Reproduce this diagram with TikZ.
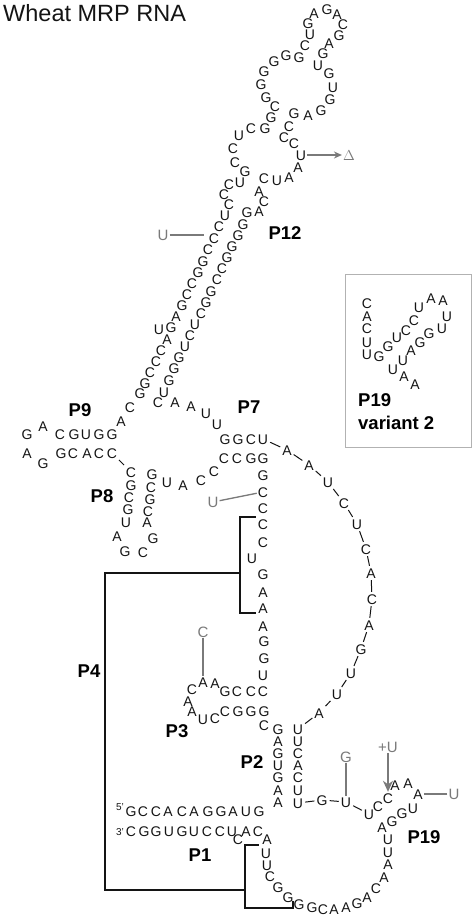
\documentclass[tikz,border=0pt]{standalone}
\usepackage{fontspec}
\usetikzlibrary{arrows.meta}
\setmainfont{Liberation Sans}
\definecolor{ink}{gray}{0.08}
\definecolor{mut}{gray}{0.48}
\tikzset{
    nt/.style={inner sep=1pt,text=ink,font=\fontsize{14}{14}\selectfont,text height=10pt,text depth=0pt},
    mutnt/.style={nt,text=mut,font=\fontsize{15}{15}\selectfont},
    lab/.style={inner sep=0pt,text=black,font=\fontsize{18.5}{18.5}\selectfont\bfseries},
    prime/.style={inner sep=0pt,text=ink,font=\fontsize{10}{10}\selectfont},
    link/.style={draw=ink,line width=1pt,shorten >=1pt,shorten <=1pt},
    mutlink/.style={draw=mut,line width=1.3pt},
    bracket/.style={draw=ink,line width=1.5pt,line cap=rect}
}
\begin{document}
\begin{tikzpicture}[x=1pt,y=-1pt,>={Stealth[length=8pt,width=7pt]}]
\useasboundingbox (0,0) rectangle (474,916);
\fill[white] (0,0) rectangle (474,916);

\node[inner sep=0pt,anchor=west,text=ink,font=\fontsize{23.5}{23.5}\selectfont] (title) at (3,13) {Wheat MRP RNA};

% P12 and the long helix
\foreach \px/\py/\t [count=\i] in {
    314/13/A,327/9/G,337/14/A,343/24/C,339/35/G,329/43/A,323/53/G,318/65/U,329/73/G,333/87/U,
    330/99/G,321/110/G,308/115/A,294/113/G,289/126/C,284/137/C,294/143/C,301/155/U,298/167/A,
    289/177/A,277/180/U,264/178/C,259/191/A,264/201/C,259/211/A,247/212/G,243/224/G,238/235/G,
    232/246/G,227/257/G,222/268/C,217/279/C,211/291/G,206/302/G,201/313/C,195/324/U,190/335/C,
    185/346/U,179/357/G,174/368/G,169/380/G,164/392/U,158/402/C,175/402/A,191/406/A,206/413/U,
    217/424/U}
    \node[nt] (r\i) at (\px,\py) {\t};
\foreach \px/\py/\t [count=\i] in {
    308/23/G,310/34/U,305/45/C,299/57/G,286/55/G,274/61/G,264/71/G,261/84/G,266/97/G,275/106/C,
    271/117/G,265/128/G,251/128/C,239/135/U,233/148/C,235/162/C,245/171/G,240/182/U,229/184/C,
    224/194/C,229/204/C,225/215/U,219/226/C,214/238/C,208/249/C,203/261/G,198/272/G,192/283/C,
    187/294/C,182/305/G,176/316/A,171/327/G,159/329/U,167/339/A,161/350/C,156/361/C,150/372/C,
    145/383/G,140/393/G,130/407/C,121/421/A}
    \node[nt] (l\i) at (\px,\py) {\t};

% P9 and P8
\foreach \px/\py/\t [count=\i] in {
    112/434/G,99/434/G,86/434/U,74/434/G,60/434/C,43/426/A,27/434/G,27/453/A,43/463/G,61/453/G,
    73/453/C,87/453/A,99/453/C}
    \node[nt] (n\i) at (\px,\py) {\t};
\node[nt] (n14) at (112,453) {C};
\node[nt] (e1) at (131,472) {C};
\draw[link] (n14) -- (e1);
\foreach \px/\py/\t [count=\i] in {
    131/485/G,129/497/C,128/509/G,126/522/U,117/536/A,125/551/G,143/552/C,153/538/G,147/522/A,
    148/511/C,150/499/G,151/487/C,152/474/G,167/482/U,183/485/A,201/480/C,214/471/C,224/458/C,
    237/458/C,251/458/G,263/458/G,225/439/G,238/439/G,251/439/C}
    \node[nt] (e\i0) at (\px,\py) {\t};

% strand down to P3
\foreach \px/\py/\t [count=\i] in {
    263/475/G,263/492/C,263/508/C,263/524/C,263/542/C,252/558/U,263/574/G,263/592/A,263/608/A,
    263/626/A,264/641/G,264/658/G,263/675/U,263/691/C,251/691/C,237/691/C,225/691/G,215/683/A,
    203/682/A,192/689/C,188/701/A,192/711/A,203/719/U,215/718/C,225/711/C,238/711/G,251/711/G,
    264/711/G,264/725/C}
    \node[nt] (d\i) at (\px,\py) {\t};

% P2
\foreach \py/\t [count=\i] in {729/G,741/A,753/G,765/U,777/G,790/A,802/A}
    \node[nt] (p\i) at (278,\py) {\t};
\foreach \py/\t [count=\i] in {741/U,753/C,765/A,777/C,790/U}
    \node[nt] (q\i) at (298,\py) {\t};

% long arc
\foreach \px/\py/\t [count=\i] in {
    263/439/U,287/450/A,309/465/A,328/482/U,344/503/C,357/524/U,366/549/C,371/573/A,372/599/C,
    369/625/A,361/649/G,351/673/U,337/694/U,319/713/A,298/729/U}
    \node[nt] (a\i) at (\px,\py) {\t};
\foreach \i [remember=\i as \j (initially 1)] in {2,...,15}
    \draw[link] (a\j) -- (a\i);

% P1
\node[prime] (five) at (120,807) {5'};
\node[prime] (three) at (120,832) {3'};
\foreach \px/\t [count=\i] in {131/G,143/C,156/C,168/A,182/C,194/A,208/G,221/G,233/A,246/U,259/G}
    \node[nt] (t\i) at (\px,811) {\t};
\foreach \px/\t [count=\i] in {131/C,144/G,156/G,169/U,182/G,194/U,207/C,220/C,232/U,246/A,258/C}
    \node[nt] (b\i) at (\px,831) {\t};
\node[nt] (bc) at (238,839) {C};

% bottom loop and P19
\foreach \px/\py/\t [count=\i] in {
    267/839/A,266/853/U,267/865/U,270/876/C,278/887/G,288/897/G,299/904/G,312/907/G,323/909/C,
    334/909/A,346/907/A,357/903/G,367/897/A,376/888/C,384/877/A,388/864/A,388/852/U,388/839/U,
    382/827/A,392/821/G,402/813/G,413/808/U,408/783/A,395/785/A}
    \node[nt] (c\i) at (\px,\py) {\t};
\node[nt] (u1) at (298,803) {U};
\node[nt] (g1) at (322,800) {G};
\node[nt] (u2) at (346,802) {U};
\node[nt] (u3) at (369,814) {U};
\node[nt] (cc) at (378,806) {C};
\node[nt] (cx) at (388,798) {C};
\node[nt] (ax) at (418,794) {A};
\draw[link] (u1) -- (g1);
\draw[link] (g1) -- (u2);
\draw[link] (u2) -- (u3);

% changes
\node[mutnt] (insg) at (346,757) {G};
\node[mutnt] (insu) at (388,747) {+U};
\node[mutnt] (subu) at (454,794) {U};
\node[mutnt] (subc) at (203,632) {C};
\node[mutnt] (suba) at (213,502) {U};
\node[mutnt] (subt) at (163,235) {U};
\node[mutnt] (del) at (349,155) {$\Delta$};
\draw[mutlink] (insg) -- (u2);
\draw[mutlink] (subu) -- (ax);
\draw[mutlink] (subc) -- (d19);
\draw[mutlink] (suba) -- (d2);
\draw[mutlink,shorten >=4pt] (subt) -- (subt -| l24.west);
\draw[mutlink,->] (r18) -- (del);
\draw[mutlink,-{Stealth[length=11pt,width=10pt]},line width=2.2pt] (insu) -- (cx);

% P4 pseudoknot brackets
\coordinate (k1) at (255,517);
\coordinate (k2) at (240,517);
\coordinate (k3) at (240,613);
\coordinate (k4) at (255,613);
\coordinate (k5) at (240,573);
\coordinate (k6) at (105,573);
\coordinate (k7) at (105,890);
\coordinate (k8) at (245,890);
\coordinate (k9) at (258,845);
\coordinate (k10) at (245,845);
\coordinate (k11) at (245,908);
\coordinate (k12) at (293,908);
\coordinate (k13) at (293,902);
\draw[bracket] (k1) -- (k2) -- (k3) -- (k4);
\draw[bracket] (k5) -- (k6) -- (k7) -- (k8);
\draw[bracket] (k9) -- (k10) -- (k11) -- (k12) -- (k13);

% variant box
\draw[draw=black!30,line width=1pt] (345,274) rectangle (471,447);
\foreach \px/\py/\t [count=\i] in {
    367/303/C,367/316/A,367/328/C,367/342/U,367/354/U,379/356/G,388/346/G,397/337/U,406/330/C,
    414/320/C,419/307/U,431/298/A,443/300/A,447/316/U,442/328/U,429/333/G,420/342/G,411/350/A,
    403/360/U,393/369/U,404/376/A,415/384/A}
    \node[nt] (v\i) at (\px,\py) {\t};
\node[lab,anchor=west] (lv1) at (358,400) {P19};
\node[lab,anchor=west] (lv2) at (358,423) {variant 2};

\node[lab] (p12) at (285,233) {P12};
\node[lab] (p7) at (249,407) {P7};
\node[lab] (p9) at (80,410) {P9};
\node[lab] (p8) at (102,496) {P8};
\node[lab] (p4) at (89,671) {P4};
\node[lab] (p3) at (177,731) {P3};
\node[lab] (p2) at (252,762) {P2};
\node[lab] (p1) at (200,855) {P1};
\node[lab] (p19) at (424,837) {P19};
\end{tikzpicture}
\end{document}
